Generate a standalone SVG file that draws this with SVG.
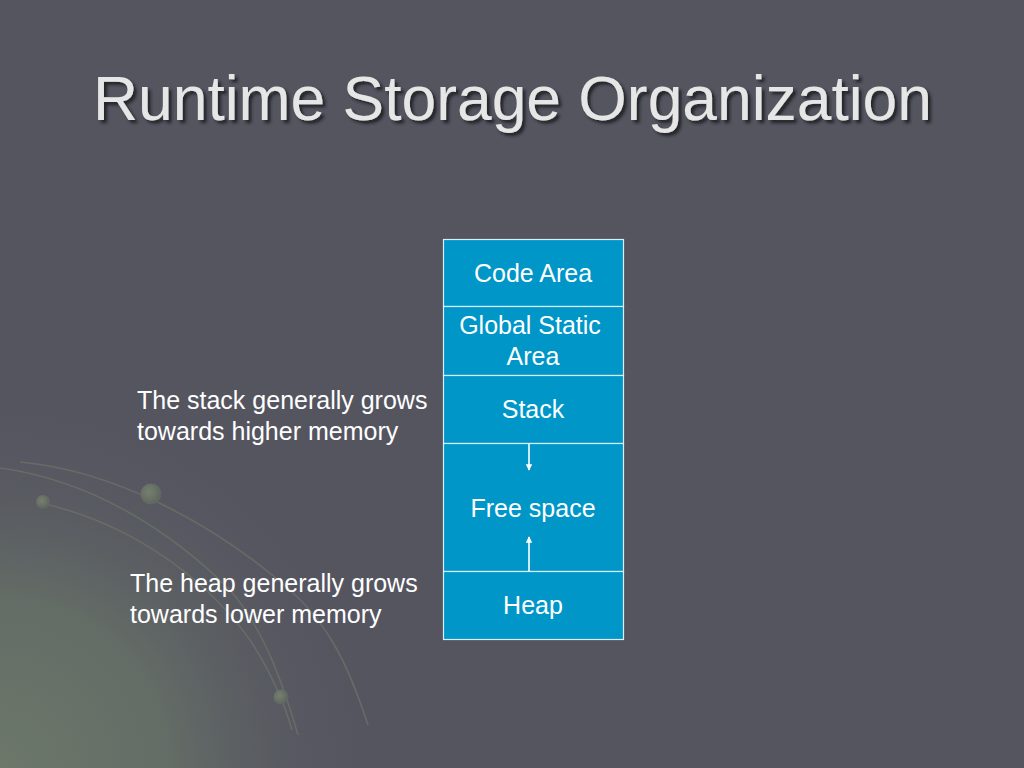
<svg xmlns="http://www.w3.org/2000/svg" width="1024" height="768" viewBox="0 0 1024 768">
<defs>
<radialGradient id="bgGlow" cx="0" cy="768" r="380" gradientUnits="userSpaceOnUse">
<stop offset="0" stop-color="#6c786a"/>
<stop offset="0.45" stop-color="#646c66"/>
<stop offset="1" stop-color="#555560" stop-opacity="0"/>
</radialGradient>
<radialGradient id="dot" cx="0.4" cy="0.4" r="0.6">
<stop offset="0" stop-color="#76806f"/>
<stop offset="1" stop-color="#5e665e"/>
</radialGradient>
<filter id="shadow" x="-5%" y="-20%" width="110%" height="140%">
<feDropShadow dx="3" dy="3" stdDeviation="1.5" flood-color="#1e1e24" flood-opacity="0.9"/>
</filter>
<marker id="arrow" viewBox="0 0 10 10" refX="9" refY="5" markerWidth="4" markerHeight="4" orient="auto" markerUnits="strokeWidth">
<path d="M0,0 L10,5 L0,10 z" fill="#ffffff"/>
</marker>
<style>
.cell{fill:#0096c8;stroke:#d8eef8;stroke-width:1.2}
.lbl{font-family:"Liberation Sans",Arial,sans-serif;font-size:25px;fill:#ffffff;text-anchor:middle}
.side{font-family:"Liberation Sans",Arial,sans-serif;font-size:25px;fill:#ffffff}
.deco{fill:none;stroke:#6a7068;stroke-width:1.6;opacity:0.8}
.conn{stroke:#ffffff;stroke-width:1.6;fill:none}
</style>
</defs>
<rect x="0" y="0" width="1024" height="768" fill="#555560"/>
<rect x="0" y="0" width="1024" height="768" fill="url(#bgGlow)"/>
<g id="decoration">
<path class="deco" d="M20,462 C110,470 210,520 290,590 C330,625 350,670 368,725"/>
<path class="deco" d="M0,468 C90,480 170,530 230,590 C265,630 285,690 298,735"/>
<path class="deco" d="M40,503 C120,520 200,570 250,640 C270,670 285,705 292,730"/>
<circle cx="43" cy="502" r="7" fill="url(#dot)"/>
<circle cx="151" cy="494" r="10.5" fill="url(#dot)"/>
<circle cx="281" cy="697" r="7.5" fill="url(#dot)"/>
</g>
<text x="93" y="120" font-family="'Liberation Sans',Arial,sans-serif" font-size="63" fill="#e6e6e6" textLength="839" lengthAdjust="spacingAndGlyphs" filter="url(#shadow)">Runtime Storage Organization</text>
<g id="code-area"><rect class="cell" x="443.5" y="239.5" width="180" height="67"/><text class="lbl" x="533" y="282">Code Area</text></g>
<g id="global-static-area"><rect class="cell" x="443.5" y="306.5" width="180" height="69"/><text class="lbl" x="530" y="334">Global Static</text><text class="lbl" x="533" y="365">Area</text></g>
<g id="stack"><rect class="cell" x="443.5" y="375.5" width="180" height="68"/><text class="lbl" x="533" y="418">Stack</text></g>
<g id="free-space"><rect class="cell" x="443.5" y="443.5" width="180" height="128"/><text class="lbl" x="533" y="517">Free space</text></g>
<g id="heap"><rect class="cell" x="443.5" y="571.5" width="180" height="68"/><text class="lbl" x="533" y="614">Heap</text></g>
<g id="connectors">
<line class="conn" x1="529" y1="444" x2="529" y2="470" marker-end="url(#arrow)"/>
<line class="conn" x1="529" y1="571" x2="529" y2="537" marker-end="url(#arrow)"/>
</g>
<g id="stack-note"><text class="side" x="137" y="409">The stack generally grows</text><text class="side" x="137" y="440">towards higher memory</text></g>
<g id="heap-note"><text class="side" x="130" y="592">The heap generally grows</text><text class="side" x="130" y="623">towards lower memory</text></g>
</svg>
